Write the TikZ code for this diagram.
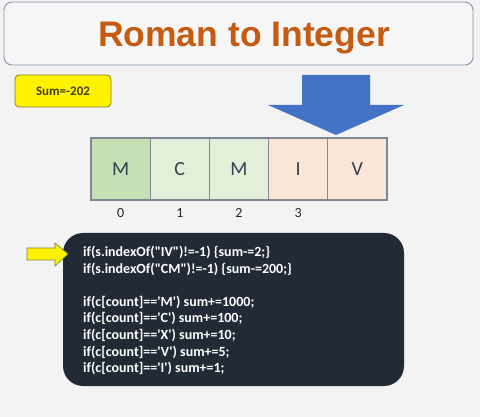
\documentclass[tikz,border=0pt]{standalone}
\usepackage{fontspec}
\setmainfont{Carlito}
\newfontfamily\titlefont{Liberation Sans}
\newfontfamily\codefont{Carlito}[Ligatures=TeXOff]
\definecolor{bgc}{HTML}{F3F3F3}
\definecolor{titlefill}{HTML}{F6F6F6}
\definecolor{titleborder}{HTML}{8494AC}
\definecolor{titlec}{HTML}{C55A11}
\definecolor{sumborder}{HTML}{7F7F3A}
\definecolor{sumtext}{HTML}{3F3F10}
\definecolor{arrowblue}{HTML}{4472C4}
\definecolor{cellborder}{HTML}{7F8896}
\definecolor{greendark}{HTML}{C5E0B4}
\definecolor{greenlight}{HTML}{E2F0D9}
\definecolor{peach}{HTML}{FBE5D6}
\definecolor{letterc}{HTML}{323F4F}
\definecolor{codebg}{HTML}{222A35}
\tikzset{
  cell/.style={draw=cellborder, line width=1.3pt, minimum width=59.2pt, minimum height=62pt,
    inner sep=0pt, font=\fontsize{20}{24}\selectfont, text=letterc},
  idx/.style={font=\fontsize{14}{16}\selectfont, text=black!85},
  codeline/.style={anchor=base west, inner sep=0pt, text=white,
    font=\codefont\bfseries\fontsize{14}{16}\selectfont},
}
\begin{document}
\begin{tikzpicture}[x=1pt,y=-1pt]
\useasboundingbox (0,0) rectangle (480,417);
\fill[bgc] (0,0) rectangle (480,417);
% title
\node[draw=titleborder, fill=titlefill, rounded corners=8pt, line width=0.9pt,
  minimum width=469pt, minimum height=63pt, inner sep=0pt] (title) at (238.5,33.5) {};
\node[anchor=base, inner sep=0pt, text=titlec, font=\titlefont\bfseries\fontsize{35.5}{40}\selectfont]
  (titletext) at (244,46.5) {Roman to Integer};
% sum box
\node[draw=sumborder, fill=yellow, rounded corners=4pt, line width=0.8pt,
  minimum width=96pt, minimum height=32pt, inner sep=0pt, text=sumtext,
  font=\bfseries\fontsize{13}{15}\selectfont] (sum) at (63,91) {Sum=-202};
% big blue arrow
\fill[arrowblue] (302,75) -- (370,75) -- (370,105) -- (404,105) -- (336,135)
  -- (268,105) -- (302,105) -- cycle;
% cells
\node[cell, fill=greendark] (c0) at (120.6,169) {M};
\node[cell, fill=greenlight] (c1) at (179.8,169) {C};
\node[cell, fill=greenlight] (c2) at (239.0,169) {M};
\node[cell, fill=peach] (c3) at (298.2,169) {I};
\node[cell, fill=peach] (c4) at (357.4,169) {V};
\node[idx] (i0) at (120.6,213) {0};
\node[idx] (i1) at (179.8,213) {1};
\node[idx] (i2) at (239.0,213) {2};
\node[idx] (i3) at (298.2,213) {3};
% code box
\fill[codebg, rounded corners=20pt] (63,233) rectangle (404,386);
\node[codeline] (l1) at (83,256.5) {if(s.indexOf("IV")!=-1) \{sum-=2;\}};
\node[codeline] (l2) at (83,273) {if(s.indexOf("CM")!=-1) \{sum-=200;\}};
\node[codeline] (l3) at (83,306.5) {if(c[count]=='M') sum+=1000;};
\node[codeline] (l4) at (83,323) {if(c[count]=='C') sum+=100;};
\node[codeline] (l5) at (83,339.5) {if(c[count]=='X') sum+=10;};
\node[codeline] (l6) at (83,356) {if(c[count]=='V') sum+=5;};
\node[codeline] (l7) at (83,372.5) {if(c[count]=='I') sum+=1;};
% yellow arrow
\filldraw[fill=yellow, draw=sumborder, line width=0.6pt] (27,248) -- (55,248) -- (55,243) -- (68,254)
  -- (55,266) -- (55,260) -- (27,260) -- cycle;
\end{tikzpicture}
\end{document}
